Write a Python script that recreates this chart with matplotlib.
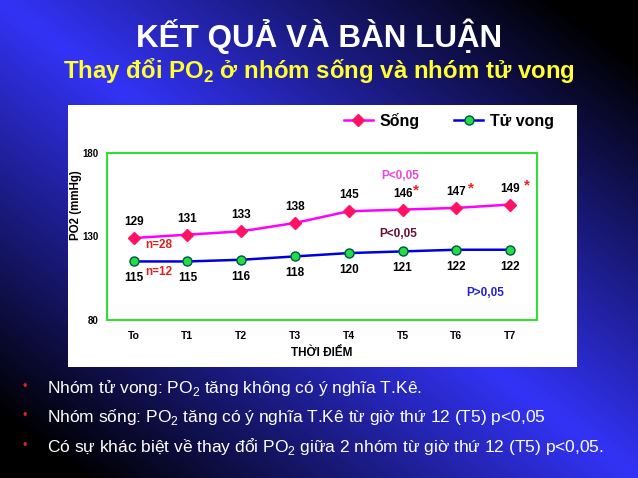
import numpy as np
import matplotlib
matplotlib.use("Agg")
import matplotlib.pyplot as plt
from matplotlib.patches import Rectangle

# data
times = ["To", "T1", "T2", "T3", "T4", "T5", "T6", "T7"]
song = [129, 131, 133, 138, 145, 146, 147, 149]
tu_vong = [115, 115, 116, 118, 120, 121, 122, 122]
star_idx = [5, 6, 7]

title = "KẾT QUẢ VÀ BÀN LUẬN"
subtitle = r"Thay đổi PO$_\mathregular{2}$ ở nhóm sống và nhóm tử vong"
bullets = [
    r"Nhóm tử vong: PO$_\mathregular{2}$ tăng không có ý nghĩa T.Kê.",
    r"Nhóm sống: PO$_\mathregular{2}$ tăng có ý nghĩa T.Kê từ giờ thứ 12 (T5) p<0,05",
    r"Có sự khác biệt về thay đổi PO$_\mathregular{2}$ giữa 2 nhóm từ giờ thứ 12 (T5) p<0,05.",
]

# (text, x index, y value, colour)
notes = [
    ("P<0,05", 4.96, 166.0, "#ee44dd"),
    ("P<0,05", 4.91, 131.4, "#661133"),
    ("P>0,05", 6.54, 96.3, "#2222cc"),
    ("n=28", 0.46, 124.8, "#e02020"),
    ("n=12", 0.46, 108.9, "#e02020"),
]

plt.rcParams["font.family"] = ["Liberation Sans", "DejaVu Sans"]
plt.rcParams["mathtext.fontset"] = "custom"

fig = plt.figure(figsize=(6.38, 4.78), dpi=100)

# diagonal blue/black background
bg = fig.add_axes([0, 0, 1, 1])
gx, gy = np.meshgrid(np.linspace(0, 1, 320), np.linspace(0, 1, 240))
k = np.clip(1 - np.abs(gx - gy) * 1.15, 0, 1)
img = np.dstack([0.2 * k, 0.2 * k, 0.97 * k])
bg.imshow(img, extent=[0, 1, 0, 1], aspect="auto", origin="upper")
bg.set_axis_off()

fig.patches.append(Rectangle((0.1066, 0.2322), 0.7978, 0.5481, transform=fig.transFigure,
                             facecolor="white", edgecolor="none", zorder=1))

fig.text(0.5, 1 - 46.7 / 478, title, color="white", fontsize=22.6, fontweight="bold",
         ha="center", va="baseline")
fig.text(0.5, 1 - 78.3 / 478, subtitle, color="#ffff33", fontsize=17.3, fontweight="bold",
         ha="center", va="baseline")

for i, line in enumerate(bullets):
    yb = 1 - (393 + 29.3 * i) / 478
    fig.text(25 / 638, yb + 3 / 478, "•", color="#dd2222", fontsize=9, ha="center", va="baseline")
    fig.text(46.7 / 638, yb, line, color="white", fontsize=12.55, ha="left", va="baseline")

ax = fig.add_axes([106.7 / 638, 1 - 320 / 478, 430.3 / 638, 167.3 / 478], zorder=2)
x = np.arange(len(times))
ax.plot(x, song, color="#ff00ff", lw=1.8, marker="D", ms=6.5, mfc="#ff1166",
        mec="#ff1166", label="Sống", zorder=3)
ax.plot(x, tu_vong, color="#0000dd", lw=1.8, marker="o", ms=6.5, mfc="#22dd44",
        mec="#005544", mew=1, label="Tử vong", zorder=3)

for xi, v in zip(x, song):
    ax.annotate(str(v), (xi, v), xytext=(0, 11.5), textcoords="offset points", ha="center",
                va="center", fontsize=8.5, fontweight="bold")
for xi, v in zip(x, tu_vong):
    ax.annotate(str(v), (xi, v), xytext=(0, -12.2), textcoords="offset points", ha="center",
                va="center", fontsize=8.5, fontweight="bold")
for j, i in enumerate(star_idx):
    ax.annotate("*", (x[i], song[i]), xytext=(9.5 + 1.2 * j, 14), textcoords="offset points",
                ha="center", va="center", fontsize=11, fontweight="bold", color="#ee2222")
for txt, nx, ny, c in notes:
    ax.text(nx, ny, txt, color=c, fontsize=8.5, fontweight="bold", ha="center", va="center")

ax.set_xlim(-0.5, 7.5)
ax.set_ylim(80, 180)
ax.set_yticks([80, 130, 180])
ax.set_xticks(x)
ax.set_xticklabels(times)
ax.tick_params(length=0, labelsize=7.5)
ax.tick_params(axis="y", pad=6, labelsize=7)
ax.tick_params(axis="x", pad=8)
for lab in ax.get_xticklabels() + ax.get_yticklabels():
    lab.set_fontweight("bold")
for s in ax.spines.values():
    s.set_color("#33dd33")
    s.set_linewidth(1.5)

fig.text(322 / 638, 1 - 352.7 / 478, "THỜI ĐIỂM", fontsize=8.5, fontweight="bold",
         ha="center", va="center")
fig.text(76 / 638, 1 - 205 / 478, "PO2 (mmHg)", fontsize=8.3, fontweight="bold",
         rotation=90, ha="center", va="center")

ax.legend(loc="center right", bbox_to_anchor=(568 / 638, 1 - 121 / 478),
          bbox_transform=fig.transFigure, ncol=2, frameon=False,
          prop={"weight": "bold", "size": 11.5}, handlelength=1.8,
          columnspacing=2.2, handletextpad=0.4)

fig.savefig("out.png", dpi=100)
